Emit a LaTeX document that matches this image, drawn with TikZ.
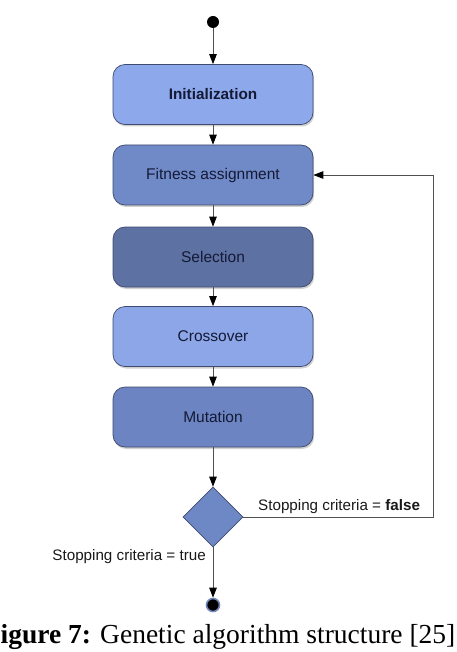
\documentclass[tikz,border=0pt]{standalone}
\usepackage{fontspec}
\setmainfont{Liberation Serif}
\newfontfamily\boxfont{Liberation Sans}
\usetikzlibrary{arrows.meta,shapes.geometric}
\definecolor{cInit}{HTML}{8DA8EB}
\definecolor{cFit}{HTML}{7089C7}
\definecolor{cSel}{HTML}{5E71A3}
\definecolor{cCross}{HTML}{8CA6E7}
\definecolor{cMut}{HTML}{6C84C1}
\definecolor{cDec}{HTML}{6E88C6}
\definecolor{cBorder}{HTML}{3E4A6E}
\definecolor{cTxt}{HTML}{141a36}
\definecolor{cLine}{HTML}{505050}
\tikzset{
  actbox/.style={rounded corners=12pt, draw=cBorder, line width=0.7pt,
    minimum width=200pt, minimum height=60pt, inner sep=0pt,
    font=\boxfont\fontsize{15.5pt}{18pt}\selectfont, text=cTxt,
    preaction={draw=none, fill=black!18, transform canvas={shift={(1.2pt,-2pt)}}}},
  flow/.style={draw=cLine, line width=0.8pt, -{Triangle[length=10pt,width=7.5pt,color=black]}},
  lbl/.style={font=\boxfont\fontsize{15.2pt}{18pt}\selectfont, text=black!90, inner sep=0pt}
}
\begin{document}
\begin{tikzpicture}[x=1pt,y=-1pt]
\useasboundingbox (0,0) rectangle (456,652);
\node[circle, fill=black, minimum size=12pt, inner sep=0pt] (start) at (213,22) {};
\node[actbox, fill=cInit, font=\boxfont\bfseries\fontsize{15.3pt}{18pt}\selectfont] (init) at (213,94.5) {Initialization};
\node[actbox, fill=cFit] (fit) at (213,175) {Fitness assignment};
\node[actbox, fill=cSel] (sel) at (213,257) {Selection};
\node[actbox, fill=cCross] (cross) at (213,336.5) {Crossover};
\node[actbox, fill=cMut] (mut) at (213,417) {Mutation};
\node[diamond, aspect=1, fill=cDec, draw=cBorder, line width=0.6pt, minimum width=60pt, minimum height=60pt, inner sep=0pt] (dec) at (213,517) {};
\node[circle, fill=black, draw=cFit!80!gray, line width=1.6pt, minimum size=13pt, inner sep=0pt] (stop) at (213,605) {};
\coordinate (cr) at (433,517);
\coordinate (ct) at (433,175);
\draw[flow] (start) -- (init.north);
\draw[flow] (init) -- (fit);
\draw[flow] (fit) -- (sel);
\draw[flow] (sel) -- (cross);
\draw[flow] (cross) -- (mut);
\draw[flow] (mut) -- (dec.north);
\draw[flow] (dec.south) -- (stop);
\draw[flow] (dec.east) -- (cr) -- (ct) -- (fit.east);
\node[lbl, anchor=base west] (lfalse) at (258,510) {Stopping criteria = \textbf{false}};
\node[lbl, anchor=base east] (ltrue) at (206,560) {Stopping criteria = true};
\node[anchor=base east, inner sep=0pt, font=\fontsize{27.5pt}{32pt}\selectfont] (cap) at (455.5,643) {\textbf{Figure 7:} Genetic algorithm structure [25]};
\end{tikzpicture}
\end{document}
